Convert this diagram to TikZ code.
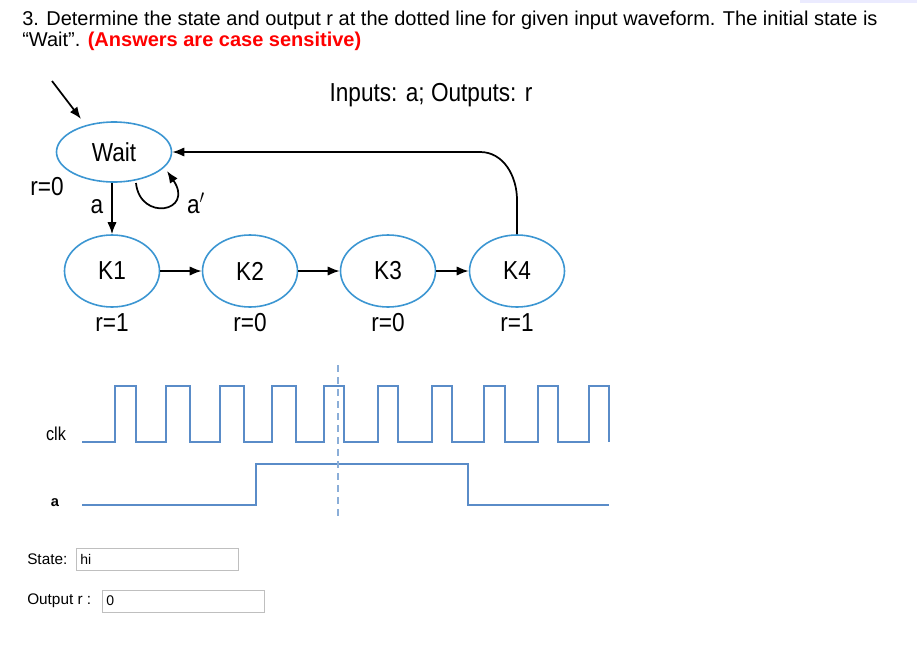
\documentclass[tikz,border=0pt]{standalone}
\usepackage{fontspec}
\setmainfont{Liberation Sans}
\usetikzlibrary{shapes.geometric,arrows.meta}
\definecolor{sblue}{RGB}{60,150,210}
\definecolor{wblue}{RGB}{90,140,200}
\newcommand{\nar}[1]{\scalebox{0.87}[1]{#1}}
\begin{document}
\begin{tikzpicture}[x=0.75pt,y=-0.75pt,
  st/.style={ellipse,draw=sblue,line width=1.2pt,minimum width=95pt*0.75,minimum height=72pt*0.75,inner sep=0pt},
  lbl/.style={font=\fontsize{19.5}{22}\selectfont,inner sep=0pt},
  arr/.style={-{Latex[length=9pt,width=7pt]},line width=1.3pt},
  wave/.style={draw=wblue,line width=1.6pt},
  txt/.style={font=\fontsize{15}{18}\selectfont,anchor=west,inner sep=0pt},
  ftxt/.style={font=\fontsize{11.5}{14}\selectfont,anchor=west,inner sep=0pt},
  fld/.style={draw=black!25,line width=0.6pt}]
\useasboundingbox (0,0) rectangle (917,646);
\fill[blue!8] (800,0) rectangle (917,3);
\node[txt] (t1) at (22,20) {3. Determine the state and output r at the dotted line for given input waveform. The initial state is};
\node[txt] (t2) at (22,41) {“Wait”. \textcolor{red}{\textbf{(Answers are case sensitive)}}};
\node[lbl] (io) at (431,95) {\nar{Inputs: a; Outputs: r}};
\node[st,minimum width=115pt*0.75,minimum height=60pt*0.75] (W) at (114,152) {};
\node[lbl] at (W) {\nar{Wait}};
\node[st] (K1) at (112,271) {}; \node[lbl] at (K1) {\nar{K1}};
\node[st] (K2) at (250,271) {}; \node[lbl] at (K2) {\nar{K2}};
\node[st] (K3) at (388,271) {}; \node[lbl] at (K3) {\nar{K3}};
\node[st] (K4) at (517,271) {}; \node[lbl] at (K4) {\nar{K4}};
\node[lbl] (r0) at (47,187) {\nar{r=0}};
\node[lbl] (r1) at (112,323) {\nar{r=1}};
\node[lbl] (r2) at (250,323) {\nar{r=0}};
\node[lbl] (r3) at (388,323) {\nar{r=0}};
\node[lbl] (r4) at (517,323) {\nar{r=1}};
\node[lbl] (la) at (97,207) {\nar{a}};
\node[lbl] (lap) at (196,203) {\nar{a$'$}};
\coordinate (init) at (52,81);
\draw[arr] (init) -- (81,119);
\draw[arr] (112,183) -- (K1.north);
\draw[arr] (K1) -- (K2);
\draw[arr] (K2) -- (K3);
\draw[arr] (K3) -- (K4);
\draw[arr] (K4.north) -- (517,200) to[out=90,in=0] (480,152) -- (W.east);
\draw[arr] (136,183) .. controls (140,222) and (195,212) .. (167,171);
% waveforms
\node[lbl,font=\fontsize{14}{16}\selectfont] (clk) at (56,434) {\nar{clk}};
\node[lbl,font=\fontsize{11}{13}\selectfont\bfseries] (alab) at (55,503) {a};
\draw[wave] (82,442) \foreach \r/\f in {115/136,166/190,220/244,272/296,324/344,378/398,432/452,484/505,538/558,589/609}{ -- (\r,442) -- (\r,386) -- (\f,386) -- (\f,442)};
\draw[wave] (82,505) -- (256,505) -- (256,464) -- (468,464) -- (468,505) -- (609,505);
\draw[wblue!70,dashed,line width=0.9pt,dash pattern=on 5pt off 4pt] (338,365) -- (338,520);
\node[ftxt] (s) at (27,559) {State:};
\draw[fld] (76,548) rectangle (238,570);
\node[ftxt,font=\fontsize{10.5}{13}\selectfont] at (80,559) {hi};
\node[ftxt] (o) at (27,601) {Output r :};
\draw[fld] (102,590) rectangle (264,612);
\node[ftxt,font=\fontsize{10.5}{13}\selectfont] at (106,601) {0};
\end{tikzpicture}
\end{document}
